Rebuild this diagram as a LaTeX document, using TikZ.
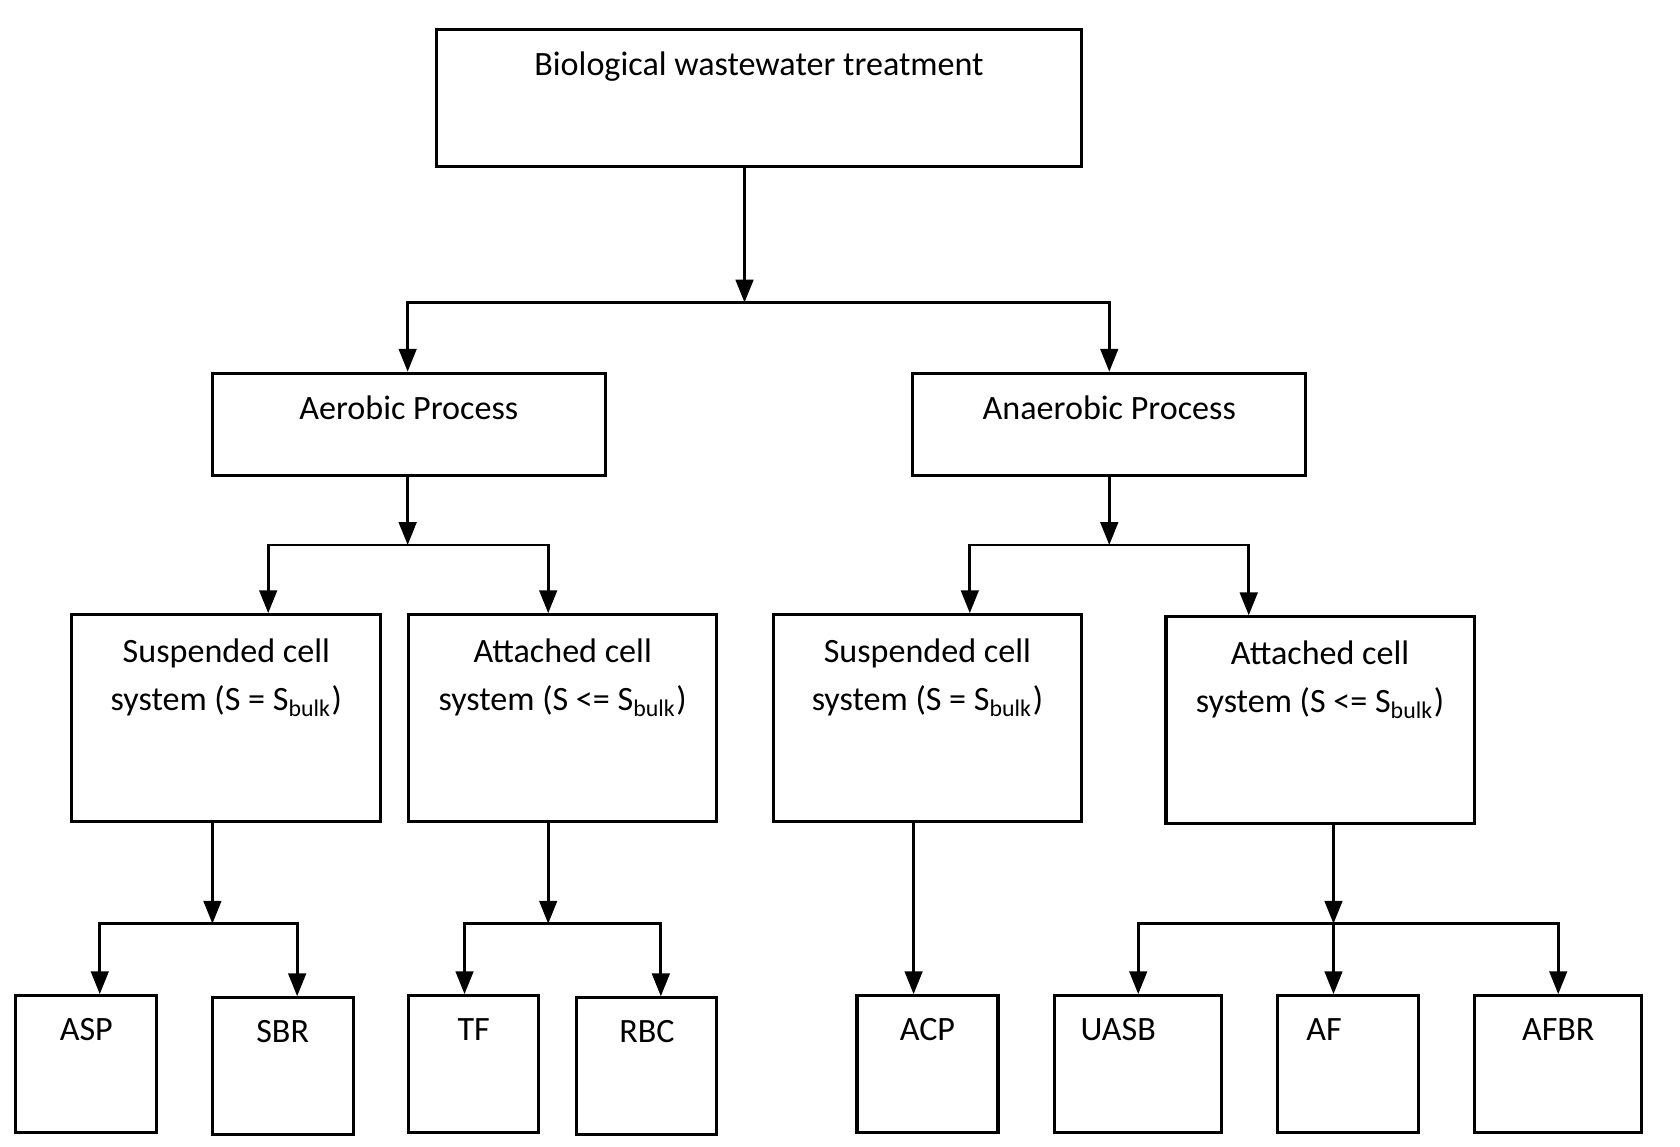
\documentclass[tikz,border=0pt]{standalone}
\usepackage{fontspec}
\setmainfont{Carlito}
\usetikzlibrary{arrows.meta}
\begin{document}
\begin{tikzpicture}[x=0.010728cm, y=-0.010728cm, every path/.style={line width=0.8pt},
    box/.style={draw, line width=0.9pt, inner sep=0pt},
    lab/.style={anchor=north, align=center, font=\fontsize{9.7}{13.8}\selectfont, inner sep=0pt},
    arr/.style={-{Triangle[width=5pt, length=6.5pt]}}]

    \useasboundingbox (0,0) rectangle (1566,1069);

    % Boxes
    \node[box, minimum width=6.45cm, minimum height=1.37cm, label={[lab, yshift=-0.23cm]north:Biological wastewater treatment}] at (707.5,91) (BWT) {};
    \node[box, minimum width=3.93cm, minimum height=1.02cm, label={[lab, yshift=-0.23cm]north:Aerobic Process}] at (381,395.5) (AER) {};
    \node[box, minimum width=3.93cm, minimum height=1.02cm, label={[lab, yshift=-0.23cm]north:Anaerobic Process}] at (1034,395.5) (ANA) {};

    \node[box, minimum width=3.09cm, minimum height=2.07cm, label={[lab, yshift=-0.24cm]north:Suspended cell\\system (S = S\textsubscript{bulk})}] at (211,669.5) (SUS1) {};
    \node[box, minimum width=3.08cm, minimum height=2.07cm, label={[lab, yshift=-0.24cm]north:Attached cell\\system (S <= S\textsubscript{bulk})}] at (524.5,669.5) (ATT1) {};
    \node[box, minimum width=3.08cm, minimum height=2.07cm, label={[lab, yshift=-0.24cm]north:Suspended cell\\system (S = S\textsubscript{bulk})}] at (864.5,669.5) (SUS2) {};
    \node[box, minimum width=3.08cm, minimum height=2.07cm, label={[lab, yshift=-0.24cm]north:Attached cell\\system (S <= S\textsubscript{bulk})}] at (1230.5,671.5) (ATT2) {};

    \node[box, minimum width=1.41cm, minimum height=1.37cm, label={[lab, yshift=-0.23cm]north:ASP}] at (80.5,992) (ASP) {};
    \node[box, minimum width=1.41cm, minimum height=1.37cm, label={[lab, yshift=-0.23cm]north:SBR}] at (263.5,994) (SBR) {};
    \node[box, minimum width=1.30cm, minimum height=1.37cm, label={[lab, yshift=-0.23cm]north:TF}] at (441.5,992) (TF) {};
    \node[box, minimum width=1.40cm, minimum height=1.37cm, label={[lab, yshift=-0.23cm]north:RBC}] at (603,994) (RBC) {};
    \node[box, minimum width=1.41cm, minimum height=1.37cm, label={[lab, yshift=-0.23cm]north:ACP}] at (864.5,992) (ACP) {};
    \node[box, minimum width=1.67cm, minimum height=1.37cm, label={[lab, yshift=-0.23cm, xshift=-0.2cm]north:UASB}] at (1061,992) (UASB) {};
    \node[box, minimum width=1.41cm, minimum height=1.37cm, label={[lab, yshift=-0.23cm, xshift=-0.24cm]north:AF}] at (1256.5,992) (AF) {};
    \node[box, minimum width=1.67cm, minimum height=1.37cm, label={[lab, yshift=-0.23cm]north:AFBR}] at (1452.5,992) (AFBR) {};

    % Junctions
    \coordinate (J0) at (694,282);
    \coordinate (J1) at (380,508);
    \coordinate (J2) at (1034,508);
    \coordinate (J3) at (198,861);
    \coordinate (J4) at (511,861);
    \coordinate (J5) at (1243,861);
    \coordinate (J6) at (851.6,766);

    % Lines
    \draw[arr] (BWT.south -| J0) -- (J0);
    \draw[arr] (J0) -| (AER.north -| 380,0);
    \draw[arr] (J0) -| (ANA.north);
    \draw[arr] (AER.south -| J1) -- (J1);
    \draw[arr] (J1) -| (SUS1.north -| 250,0);
    \draw[arr] (J1) -| (ATT1.north -| 511,0);
    \draw[arr] (ANA.south) -- (J2);
    \draw[arr] (J2) -| (SUS2.north -| 904,0);
    \draw[arr] (J2) -| (ATT2.north -| 1164,0);

    \draw[arr] (SUS1.south -| J3) -- (J3);
    \draw[arr] (J3) -| (ASP.north -| 93,0);
    \draw[arr] (J3) -| (SBR.north -| 277,0);
    \draw[arr] (ATT1.south -| J4) -- (J4);
    \draw[arr] (J4) -| (TF.north -| 433,0);
    \draw[arr] (J4) -| (RBC.north -| 616,0);
    \draw[arr] (J6) -- (ACP.north -| J6);
    \draw[arr] (ATT2.south -| J5) -- (J5);
    \draw[arr] (J5) -| (UASB.north);
    \draw[arr] (J5) -- (AF.north -| J5);
    \draw[arr] (J5) -| (AFBR.north);

\end{tikzpicture}
\end{document}
